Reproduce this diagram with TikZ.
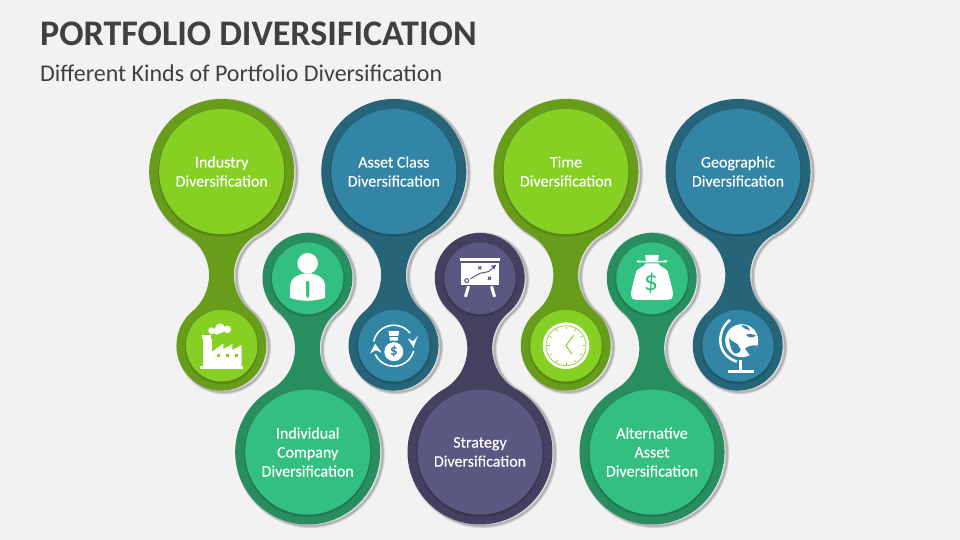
\documentclass[tikz,border=0pt]{standalone}
\usepackage{fontspec}
\setmainfont{Carlito}
\newfontfamily\labelfont[FakeBold=0.25]{Carlito}
\usetikzlibrary{calc,positioning}
\definecolor{pagebg}{HTML}{F2F2F2}
\definecolor{lime}{HTML}{86D024}
\definecolor{limed}{HTML}{689D1C}
\definecolor{teal}{HTML}{3385A6}
\definecolor{teald}{HTML}{256479}
\definecolor{indig}{HTML}{5A5880}
\definecolor{indigd}{HTML}{45405F}
\definecolor{emer}{HTML}{33BF80}
\definecolor{emerd}{HTML}{288E60}
\tikzset{
  bigin/.style={circle,minimum size=125pt,inner sep=0pt,outer sep=0pt,text=white,align=center,font=\fontsize{16}{19}\labelfont},
  smallin/.style={circle,minimum size=71.5pt,inner sep=0pt,outer sep=0pt},
  icon/.style={fill=white,draw=none},
  heading/.style={anchor=west,inner sep=0pt,text=black!75}
}
\newcommand{\dropath}{(-60.1:72.5) arc[start angle=-60.1,end angle=239.9,radius=72.5]
  arc[start angle=60.1,end angle=-49.7,radius=47.3]
  arc[start angle=130.3,end angle=409.7,radius=45]
  arc[start angle=229.7,end angle=119.9,radius=47.3] -- cycle}
\newcommand{\dropshape}[4]{
  \begin{scope}[shift={(#1+2.5,#2-1.5)},yscale=#3]
    \foreach \s in {1,...,8} \draw[black,opacity=0.04,line width=\s*0.6pt] \dropath;
  \end{scope}
  \begin{scope}[shift={(#1,#2)},yscale=#3]
    \fill[#4] \dropath;
  \end{scope}
}
\begin{document}
\begin{tikzpicture}[x=1pt,y=1pt]
  \useasboundingbox (0,0) rectangle (960,-540);
  \fill[pagebg] (0,0) rectangle (960,-540);

  \node[heading,font=\fontsize{36}{40}\selectfont\bfseries] (title) at (40,-34) {PORTFOLIO DIVERSIFICATION};
  \node[heading,font=\fontsize{24}{28}\selectfont] (subtitle) at (40,-73) {Different Kinds of Portfolio Diversification};

  \dropshape{221.7}{-171.5}{1}{limed}
  \dropshape{393.8}{-171.5}{1}{teald}
  \dropshape{566}{-171.5}{1}{limed}
  \dropshape{738}{-171.5}{1}{teald}
  \dropshape{307.7}{-452}{-1}{emerd}
  \dropshape{480}{-452}{-1}{indigd}
  \dropshape{652}{-452}{-1}{emerd}

  \foreach \cx/\cy/\r in {221.7/-171.5/62.5,393.8/-171.5/62.5,566/-171.5/62.5,738/-171.5/62.5,
      307.7/-452/62.5,480/-452/62.5,652/-452/62.5,
      221.7/-345.7/35.7,393.8/-345.7/35.7,566/-345.7/35.7,738/-345.7/35.7,
      307.7/-278.3/35.7,480/-278.3/35.7,652/-278.3/35.7}
    \foreach \s in {1,...,3} \draw[black,opacity=0.05,line width=\s*1pt] (\cx,\cy-1.5) circle[radius=\r];

  \node[bigin,fill=lime] (indust) at (221.7,-171.5) {Industry\\Diversification};
  \node[bigin,fill=teal] (asset) at (393.8,-171.5) {Asset Class\\Diversification};
  \node[bigin,fill=lime] (time) at (566,-171.5) {Time\\Diversification};
  \node[bigin,fill=teal] (geo) at (738,-171.5) {Geographic\\Diversification};
  \node[bigin,fill=emer] (indiv) at (307.7,-452) {Individual\\Company\\Diversification};
  \node[bigin,fill=indig] (strat) at (480,-452) {Strategy\\Diversification};
  \node[bigin,fill=emer] (alter) at (652,-452) {Alternative\\Asset\\Diversification};

  \node[smallin,fill=lime] (factory) at (221.7,-345.7) {};
  \node[smallin,fill=teal] (cycle) at (393.8,-345.7) {};
  \node[smallin,fill=lime] (clock) at (566,-345.7) {};
  \node[smallin,fill=teal] (globe) at (738,-345.7) {};
  \node[smallin,fill=emer] (person) at (307.7,-278.3) {};
  \node[smallin,fill=indig] (board) at (480,-278.3) {};
  \node[smallin,fill=emer] (bag) at (652,-278.3) {};

  % factory
  \begin{scope}[shift={(factory.center)}]
    \fill[icon] (-21.7,-23) rectangle (21,-20.3);
    \fill[icon] (-19.3,10.7) rectangle (-11,6.7);
    \fill[icon] (-18.3,7) rectangle (-9.3,-21);
    \fill[icon] (-9.5,-6) -- (1.7,2.3) -- (1.7,-3.3) -- (10.7,1.7) -- (10.7,-4.3) -- (20,0.7) -- (20,-21) -- (-9.5,-21) -- cycle;
    \foreach \wx in {-3.3,5.7,15} \fill[lime] (\wx-1.5,-10.8) rectangle (\wx+1.5,-7.8);
    \fill[icon] (-10,15) circle[radius=3.4] (-1.7,17.3) circle[radius=5] (5.7,16.3) circle[radius=3.8] (-5,14) circle[radius=3];
  \end{scope}

  % person
  \begin{scope}[shift={(person.center)}]
    \fill[icon] (0,15) circle[radius=10.3];
    \fill[icon] (-17.5,-19.5) -- (-17.5,-8) .. controls (-17.5,1) and (-8,5) .. (0,5)
      .. controls (8,5) and (17.5,1) .. (17.5,-8) -- (17.5,-19.5) .. controls (6,-23.5) and (-6,-23.5) .. cycle;
    \fill[emer] (-1.5,-3) -- (1.5,-3) -- (1.7,-17) -- (0,-20) -- (-1.7,-17) -- cycle;
  \end{scope}

  % money cycle
  \begin{scope}[shift={(cycle.center)}]
    \draw[white,line width=1.6pt] (168:20.5) arc[start angle=168,end angle=38,radius=20.5];
    \draw[white,line width=1.6pt] (-15:20.5) arc[start angle=-15,end angle=-155,radius=20.5];
    \fill[icon] (14,7.3) -- (19.5,4.5) -- (24,10) -- (19.7,-2) -- cycle;
    \fill[icon] (-12,-7) -- (-18,-4.5) -- (-23.7,-7.7) -- (-18.7,2) -- cycle;
    \fill[icon] (0,-6) circle[radius=9.5];
    \fill[icon] (-5.3,14.7) -- (5.3,14.7) -- (3.8,5) -- (-3.8,5) -- cycle;
    \fill[teal] (-5,9.6) rectangle (5,8.9);
    \node[text=teal,font=\fontsize{15}{15}\selectfont\bfseries,inner sep=0pt] (cyclesign) at (0,-6) {\$};
  \end{scope}

  % board
  \begin{scope}[shift={(board.center)}]
    \fill[icon] (-20,20.3) rectangle (20,17);
    \fill[icon] (-19.3,15.7) rectangle (19.3,-6.7);
    \draw[white,line width=3pt] (-11.5,-8) -- (-14.5,-18.5);
    \draw[white,line width=3pt] (11.5,-8) -- (14.5,-18.5);
    \draw[indig,line width=1pt] (-13.3,-2.3) circle[radius=2];
    \draw[indig,line width=1pt] (-9.5,-0.5) -- (0,5) -- (8.5,6.7) -- (15,12);
    \fill[indig] (16,13.5) -- (11,12.5) -- (14.5,9) -- cycle;
    \draw[indig,line width=1.2pt] (-1.7,12) -- (1.3,9) (-1.7,9) -- (1.3,12);
    \draw[indig,line width=1.2pt] (8,1.5) -- (11,-1.5) (8,-1.5) -- (11,1.5);
  \end{scope}

  % clock
  \begin{scope}[shift={(clock.center)}]
    \fill[icon] (0,0) circle[radius=23.3];
    \draw[lime,line width=0.7pt] (0,0) circle[radius=20];
    \foreach \a in {0,30,...,330} \draw[lime,line width=0.7pt] (\a:16.5) -- (\a:19);
    \draw[lime,line width=1pt] (7.5,10.5) -- (0,0) -- (6,-8.5);
  \end{scope}

  % money bag
  \begin{scope}[shift={(bag.center)}]
    \fill[icon] (-6,15) .. controls (-8,11) and (-15,10) .. (-16,6.5) .. controls (-17,0) and (-21,-10) .. (-21,-17)
      .. controls (-21,-20) and (-19,-21.5) .. (-16,-21.5) -- (16,-21.5)
      .. controls (19,-21.5) and (21,-20) .. (21,-17) .. controls (21,-10) and (17,0) .. (16,6.5)
      .. controls (15,10) and (8,11) .. (6,15) -- cycle;
    \fill[icon] (-7,23.5) -- (7,23.5) -- (6,17) -- (15,18) -- (14.5,16) -- (-15,16) -- (-15,18) -- (-6,17) -- cycle;
    \node[text=emer,font=\fontsize{28}{28}\selectfont,inner sep=0pt] (bagsign) at (-1,-5) {\$};
  \end{scope}

  % globe
  \begin{scope}[shift={(globe.center)}]
    \fill[icon] (3.7,5) circle[radius=16.5];
    \fill[teal] (-9,8) .. controls (-7,5) and (-5,4) .. (-3,3) .. controls (-1,2) and (1,1) .. (1,-1)
      .. controls (3,-3) and (3,-5) .. (2,-6) .. controls (0,-8) and (-2,-8) .. (-3,-8) .. controls (-6,-6) and (-8,-2) .. (-9,8) -- cycle;
    \fill[teal] (7,-2.7) .. controls (11,0) and (15,1) .. (19.5,0) .. controls (18,-5) and (15,-8) .. (12,-9.5)
      .. controls (11,-7) and (8,-6) .. (7,-2.7) -- cycle;
    \fill[teal] (3,20.5) .. controls (6,17) and (9,16) .. (12,15) .. controls (11,18) and (9,20) .. (8,20) -- cycle;
    \fill[teal] (8,11) .. controls (11,12) and (15,12) .. (18,10) .. controls (15,8) and (11,7) .. (8,11) -- cycle;
    \draw[white,line width=2.5pt] (-8,25.7) .. controls (-20,17) and (-24,-8) .. (-1.3,-16);
    \draw[white,line width=2.6pt] (2.7,-14) -- (2.7,-25);
    \draw[white,line width=2.6pt] (-10,-26) -- (16,-26);
  \end{scope}
\end{tikzpicture}
\end{document}
